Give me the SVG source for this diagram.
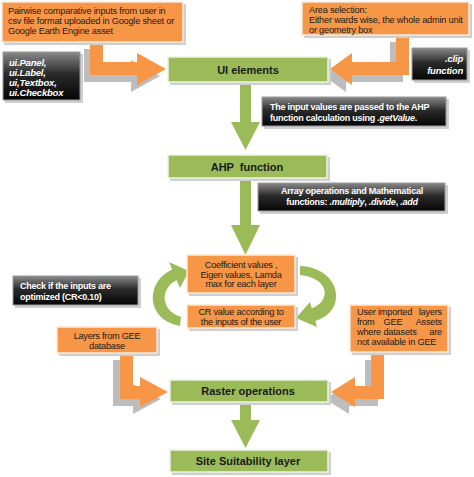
<svg xmlns="http://www.w3.org/2000/svg" width="474" height="477" viewBox="0 0 474 477">
<defs>
<linearGradient id="blk" x1="0" y1="0" x2="0" y2="1">
<stop offset="0" stop-color="#8a8a8a"/>
<stop offset="0.45" stop-color="#2b2b2b"/>
<stop offset="1" stop-color="#050505"/>
</linearGradient>
<style>
text{font-family:"Liberation Sans",Arial,sans-serif;}
.o{fill:#F79646;stroke:#fde9d9;stroke-width:1.5}
.g{fill:#9BBB59;stroke:#eef3e3;stroke-width:1.5}
.k{fill:url(#blk);stroke:#9a9a9a;stroke-width:1}
.sh{fill:#cfcfcf}
.ot{font-size:9.2px;fill:#1a1a1a;letter-spacing:-0.2px}
.oc{font-size:9.2px;fill:#1a1a1a;letter-spacing:-0.25px;text-anchor:middle}
.kt{font-size:9px;fill:#fff;font-weight:bold;letter-spacing:-0.25px}
.ki{font-size:9.5px;fill:#fff;font-weight:bold;font-style:italic;letter-spacing:-0.2px}
.gt{font-size:11px;font-weight:bold;fill:#1a1a1a;text-anchor:middle;white-space:pre}
.oa{fill:#F79646}
.ga{fill:#9BBB59}
.as{fill:#bdbdbd}
</style>
</defs>
<rect width="474" height="477" fill="#fff"/>

<g id="connectors">
  <path class="as" transform="translate(-6,7)" d="M90,42 L103,42 L103,62 L137,62 L137,53 L166,69 L137,85 L137,75 L90,75 Z"/>
  <path class="oa" d="M90,42 L103,42 L103,62 L137,62 L137,53 L166,69 L137,85 L137,75 L90,75 Z"/>
  <path class="as" transform="translate(-6,7)" d="M396,35 L409,35 L409,75 L352,75 L352,85 L330,69 L352,53 L352,62 L396,62 Z"/>
  <path class="oa" d="M396,35 L409,35 L409,75 L352,75 L352,85 L330,69 L352,53 L352,62 L396,62 Z"/>
  <path class="as" transform="translate(-7,7)" d="M120,353 L133,353 L133,386 L140,386 L140,377 L168,392 L140,407 L140,399 L120,399 Z"/>
  <path class="oa" d="M120,353 L133,353 L133,386 L140,386 L140,377 L168,392 L140,407 L140,399 L120,399 Z"/>
  <path class="as" transform="translate(-6,7)" d="M371,353 L384,353 L384,399 L355,399 L355,407 L331,392 L355,377 L355,386 L371,386 Z"/>
  <path class="oa" d="M371,353 L384,353 L384,399 L355,399 L355,407 L331,392 L355,377 L355,386 L371,386 Z"/>
  <path class="ga" d="M240,82 L251,82 L251,122 L260,122 L245.5,150 L231,122 L240,122 Z"/>
  <path class="ga" d="M240,180 L251,180 L251,225 L260,225 L245.5,255 L231,225 L240,225 Z"/>
  <path class="ga" d="M240,404 L251,404 L251,420 L260,420 L245.5,448 L231,420 L240,420 Z"/>
  <path class="ga" d="M180,326 C146,320 144,282 173,269 L177,280 C160,288 160,310 181,317 Z"/>
  <polygon class="ga" points="189,271 169,262 180,288"/>
  <path class="ga" d="M300,266 C342,268 348,312 315,321 L310,309 C332,302 330,278 300,275 Z"/>
  <polygon class="ga" points="296,318 310,302 317,327"/>
</g>

<g id="n-inputs">
  <rect class="sh" x="4" y="4" width="182" height="41"/>
  <rect class="o" x="2" y="2" width="181" height="40"/>
  <text class="ot" x="8" y="13.5">Pairwise comparative inputs  from user in</text>
  <text class="ot" x="8" y="23.5">csv file format uploaded in  Google sheet or</text>
  <text class="ot" x="8" y="33.5">Google Earth Engine asset</text>
</g>

<g id="n-area">
  <rect class="sh" x="304" y="4" width="168" height="34"/>
  <rect class="o" x="302" y="2" width="167" height="33"/>
  <text class="ot" x="309" y="12.5">Area selection:</text>
  <text class="ot" x="309" y="23">Either wards wise, the whole admin unit</text>
  <text class="ot" x="309" y="33">or geometry box</text>
</g>

<g id="n-ui-widgets">
  <rect class="sh" x="5" y="54" width="78" height="49"/>
  <rect class="k" x="3" y="52" width="77" height="48"/>
  <text class="ki" x="9" y="65.5">ui.Panel,</text>
  <text class="ki" x="9" y="75.5">ui.Label,</text>
  <text class="ki" x="9" y="85.5">ui,Textbox,</text>
  <text class="ki" x="9" y="95.5">ui.Checkbox</text>
</g>

<g id="n-clip">
  <rect class="sh" x="414" y="50" width="56" height="33"/>
  <rect class="k" x="412" y="48" width="55" height="32"/>
  <text class="ki" x="463" y="61.5" text-anchor="end">.clip</text>
  <text class="ki" x="463" y="73.5" text-anchor="end">function</text>
</g>

<g id="n-ui-elements">
  <rect class="sh" x="170" y="59" width="161" height="26"/>
  <rect class="g" x="168" y="57" width="160" height="25"/>
  <text class="gt" x="248" y="73.5">UI elements</text>
</g>

<g id="n-getvalue">
  <rect class="sh" x="264" y="99" width="185" height="30"/>
  <rect class="k" x="262" y="97" width="184" height="29"/>
  <text class="kt" x="270" y="109.5">The input values are passed to the AHP</text>
  <text class="kt" x="270" y="120.5">function calculation using <tspan font-style="italic">.getValue</tspan>.</text>
</g>

<g id="n-ahp">
  <rect class="sh" x="170" y="157" width="160" height="24"/>
  <rect class="g" x="168" y="155" width="159" height="23"/>
  <text class="gt" x="247" y="170.5">AHP  function</text>
</g>

<g id="n-array">
  <rect class="sh" x="260" y="185" width="188" height="29"/>
  <rect class="k" x="258" y="183" width="187" height="28"/>
  <text class="kt" x="352" y="194" text-anchor="middle">Array operations and Mathematical</text>
  <text class="kt" x="352" y="204.5" text-anchor="middle">functions: <tspan font-style="italic">.multiply</tspan>, <tspan font-style="italic">.divide</tspan>, <tspan font-style="italic">.add</tspan></text>
</g>

<g id="n-coeff">
  <rect class="sh" x="189" y="257" width="109" height="39"/>
  <rect class="o" x="187" y="255" width="108" height="38"/>
  <text class="oc" x="241" y="268">Coefficient values ,</text>
  <text class="oc" x="241" y="277.5">Eigen values, Lamda</text>
  <text class="oc" x="241" y="287">max for each layer</text>
</g>

<g id="n-cr">
  <rect class="sh" x="189" y="307" width="109" height="24"/>
  <rect class="o" x="187" y="305" width="108" height="23"/>
  <text class="oc" x="241" y="315">CR value according to</text>
  <text class="oc" x="241" y="324.5">the inputs of the user</text>
</g>

<g id="n-check">
  <rect class="sh" x="15" y="278" width="126" height="30"/>
  <rect class="k" x="13" y="276" width="125" height="29"/>
  <text class="kt" x="20" y="288.5">Check if the inputs are</text>
  <text class="kt" x="20" y="299.5">optimized (CR&lt;0.10)</text>
</g>

<g id="n-gee-layers">
  <rect class="sh" x="59" y="329" width="101" height="27"/>
  <rect class="o" x="57" y="327" width="100" height="26"/>
  <text class="oc" x="107" y="338.5">Layers from GEE</text>
  <text class="oc" x="107" y="348.5">database</text>
</g>

<g id="n-user-layers">
  <rect class="sh" x="352" y="307" width="99" height="48"/>
  <rect class="o" x="350" y="305" width="98" height="47"/>
  <text class="ot" y="315"><tspan x="357">User</tspan><tspan x="395" text-anchor="middle">imported</tspan><tspan x="442" text-anchor="end">layers</tspan></text>
  <text class="ot" y="324.5"><tspan x="357">from</tspan><tspan x="393" text-anchor="middle">GEE</tspan><tspan x="442" text-anchor="end">Assets</tspan></text>
  <text class="ot" y="334.5"><tspan x="357">where</tspan><tspan x="400" text-anchor="middle">datasets</tspan><tspan x="442" text-anchor="end">are</tspan></text>
  <text class="ot" x="357" y="345">not available in GEE</text>
</g>

<g id="n-raster">
  <rect class="sh" x="172" y="382" width="159" height="23"/>
  <rect class="g" x="170" y="380" width="158" height="22"/>
  <text class="gt" x="248" y="395">Raster operations</text>
</g>

<g id="n-site">
  <rect class="sh" x="172" y="452" width="159" height="23"/>
  <rect class="g" x="170" y="450" width="158" height="22"/>
  <text class="gt" x="248" y="465">Site Suitability layer</text>
</g>
</svg>
